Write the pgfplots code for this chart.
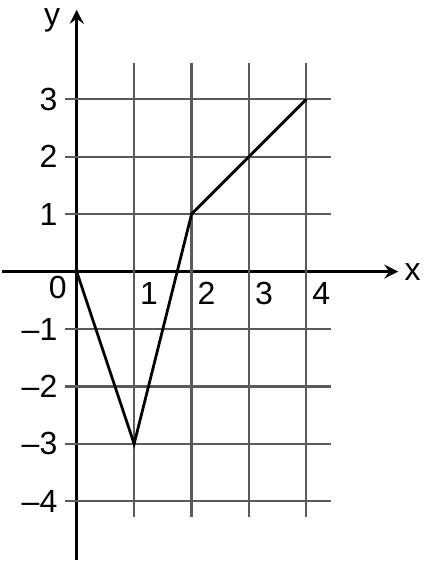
\documentclass[border=0pt]{standalone}
\usepackage{fontspec}
\setmainfont{Liberation Sans}
\usepackage{pgfplots}
\pgfplotsset{compat=1.18}
\usetikzlibrary{arrows.meta}
\definecolor{gridgray}{HTML}{5A5A5A}
\begin{document}
\begin{tikzpicture}[font=\fontsize{16}{19}\selectfont]
\begin{axis}[
  x=28.7pt, y=28.7pt,
  axis lines=middle,
  xmin=-1.31, xmax=5.6, ymin=-5.03, ymax=4.56,
  clip=false,
  axis line style={line width=1.5pt, -{Stealth[length=7pt,width=7pt,inset=2.5pt]}},
  major tick length=0pt,
  xtick={1,2,3,4}, xticklabels={1,2,3,4},
  ytick={-4,-3,-2,-1,1,2,3}, yticklabels={–4,–3,–2,–1,1,2,3},
  x tick label style={anchor=center, inner sep=0pt, xshift=7.5pt, yshift=-11pt},
  y tick label style={anchor=east, inner sep=0pt, xshift=-9.5pt},
]
% grid
\pgfplotsinvokeforeach{1,2,3,4}{
  \draw[gridgray, line width=1.1pt] (axis cs:#1,-4.27) -- (axis cs:#1,3.64);
}
\pgfplotsinvokeforeach{-4,-3,-2,-1,1,2,3}{
  \draw[gridgray, line width=1.1pt] (axis cs:-0.2,#1) -- (axis cs:4.43,#1);
}
% function
\addplot[black, line width=1.4pt, mark=none] coordinates {
(0,0) (1,-3) (2,1) (4,3)
};
\node at (axis cs:5.85,0) {x};
\node at (axis cs:-0.43,4.37) {y};
\node at (axis cs:-0.33,-0.28) {0};
\path (axis cs:-1.31,-5.18) (axis cs:6.15,4.73);
\end{axis}
\end{tikzpicture}
\end{document}
